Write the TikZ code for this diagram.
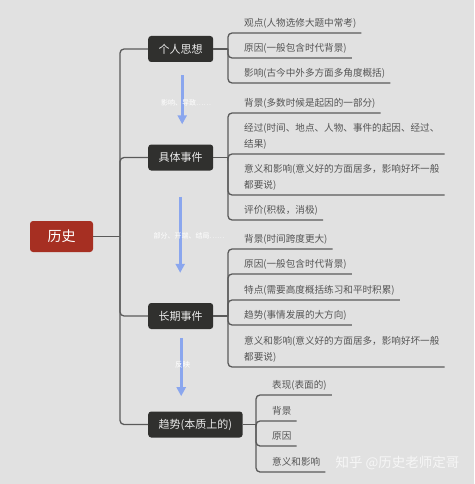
\documentclass[tikz,border=0pt]{standalone}
\usepackage{fontspec}
\newfontfamily\cjk{Noto Sans CJK SC}
\usetikzlibrary{arrows.meta}
\definecolor{bg}{HTML}{E1E1E1}
\definecolor{linec}{HTML}{5A5A5A}
\definecolor{darkbox}{HTML}{30302E}
\definecolor{redbox}{HTML}{A62F22}
\definecolor{leaftext}{HTML}{555555}
\definecolor{arrowc}{HTML}{8AA6EE}
\tikzset{
 conn/.style={draw=linec, line width=1.3pt, rounded corners=4pt},
 topic/.style={fill=darkbox, text=white!92!black, rounded corners=3pt, minimum height=26pt, inner xsep=10.5pt, font=\cjk\fontsize{11}{13}\selectfont, anchor=west},
 rootbox/.style={fill=redbox, text=white, rounded corners=3pt, minimum width=63pt, minimum height=31pt, font=\cjk\fontsize{14}{16}\selectfont},
 leaf/.style={anchor=south west, inner xsep=0pt, inner ysep=6.5pt, text depth=0pt, align=left, text=leaftext, font=\cjk\fontsize{9.6}{16}\selectfont},
 flow/.style={draw=arrowc, line width=2.8pt, -{Triangle[width=9pt,length=9pt]}},
 flowlabel/.style={text=white, font=\cjk\fontsize{7}{8}\selectfont, inner sep=1pt},
}
\begin{document}
\begin{tikzpicture}[x=1pt,y=-1pt]
\fill[bg] (0,0) rectangle (474,484);
\useasboundingbox (0,0) rectangle (474,484);

% root and topics
\node[rootbox] (root) at (61.5,236.5) {历史};
\node[topic] (n1) at (148,49) {个人思想};
\node[topic] (n2) at (148,157.5) {具体事件};
\node[topic] (n3) at (148,316) {长期事件};
\node[topic] (n4) at (148,424.5) {趋势(本质上的)};

\coordinate (trunk) at (120,236.5);
\draw[conn] (root.east) -- (trunk);
\foreach \n in {n1,n2,n3,n4} \draw[conn] (trunk) |- (\n.west);

% leaves of n1
\coordinate (br1) at (228,49);
\node[leaf] (a1) at (244,33) {观点(人物选修大题中常考)};
\node[leaf] (a2) at (244,58) {原因(一般包含时代背景)};
\node[leaf] (a3) at (244,83) {影响(古今中外多方面多角度概括)};
\draw[conn] (n1.east) -- (br1);
\foreach \l in {a1,a2,a3} \draw[conn] (br1) |- ([xshift=5pt]\l.south east);

% leaves of n2
\coordinate (br2) at (228,157.5);
\node[leaf] (b1) at (244,113) {背景(多数时候是起因的一部分)};
\node[leaf] (b2) at (244,154) {经过(时间、地点、人物、事件的起因、经过、\\结果)};
\node[leaf] (b3) at (244,195) {意义和影响(意义好的方面居多，影响好坏一般\\都要说)};
\node[leaf] (b4) at (244,220) {评价(积极，消极)};
\draw[conn] (n2.east) -- (br2);
\foreach \l in {b1,b2,b3,b4} \draw[conn] (br2) |- ([xshift=5pt]\l.south east);

% leaves of n3
\coordinate (br3) at (228,316);
\node[leaf] (c1) at (244,249) {背景(时间跨度更大)};
\node[leaf] (c2) at (244,274) {原因(一般包含时代背景)};
\node[leaf] (c3) at (244,300) {特点(需要高度概括练习和平时积累)};
\node[leaf] (c4) at (244,325) {趋势(事情发展的大方向)};
\node[leaf] (c5) at (244,367) {意义和影响(意义好的方面居多，影响好坏一般\\都要说)};
\draw[conn] (n3.east) -- (br3);
\foreach \l in {c1,c2,c3,c4,c5} \draw[conn] (br3) |- ([xshift=5pt]\l.south east);

% leaves of n4
\coordinate (br4) at (256,424.5);
\node[leaf] (d1) at (272,395) {表现(表面的)};
\node[leaf] (d2) at (272,421) {背景};
\node[leaf] (d3) at (272,446) {原因};
\node[leaf] (d4) at (272,472) {意义和影响};
\draw[conn] (n4.east) -- (br4);
\foreach \l in {d1,d2,d3,d4} \draw[conn] (br4) |- ([xshift=5pt]\l.south east);

% flow arrows
\draw[flow] ([xshift=1.5pt,yshift=-13pt]n1.south) -- ([xshift=1.5pt,yshift=20pt]n2.north);
\node[flowlabel] (l1) at (186,103) {影响、导致……};
\draw[flow] ([xshift=-0.5pt,yshift=-26pt]n2.south) -- ([xshift=-0.5pt,yshift=30pt]n3.north);
\node[flowlabel] (l2) at (189,236) {部分、开端、结局……};
\draw[flow] ([xshift=0.5pt,yshift=-9pt]n3.south) -- ++(0,58);
\node[flowlabel, font=\cjk\fontsize{7.5}{9}\selectfont] (l3) at (182.5,365) {反映};

% watermark
\node[font=\cjk\fontsize{13.5}{15}\selectfont, text=white, opacity=0.7] (wm) at (397.5,463) {知乎 @历史老师定哥};
\end{tikzpicture}
\end{document}
